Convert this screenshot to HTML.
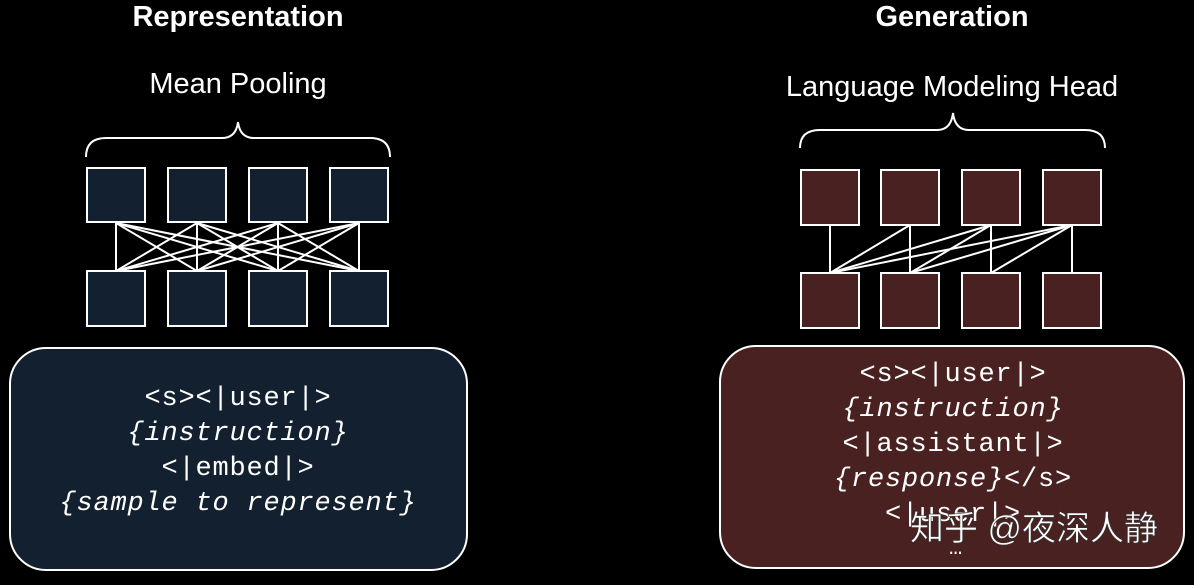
<!DOCTYPE html>
<html><head><meta charset="utf-8"><style>
body{margin:0;background:#000;width:1194px;height:580px;overflow:hidden}
</style></head><body>
<svg width="1194" height="580" xmlns="http://www.w3.org/2000/svg">
<g font-family="Liberation Sans, sans-serif" fill="#fff" text-anchor="middle">
<text x="238" y="26" font-size="29" font-weight="bold">Representation</text>
<text x="952" y="26" font-size="29" font-weight="bold">Generation</text>
<text x="238" y="93" font-size="29">Mean Pooling</text>
<text x="952" y="96" font-size="29">Language Modeling Head</text>
</g>
<g fill="none" stroke="#fff" stroke-width="2">
<path d="M86 157 Q86 138 106 138 L222 138 Q236 138 238 122 Q240 138 254 138 L370 138 Q390 138 390 157"/>
<path d="M800 148 Q800 130 820 130 L937 130 Q951 130 953 113 Q955 130 969 130 L1085 130 Q1105 130 1105 148"/>
</g>
<g stroke="#fff" stroke-width="2">
<line x1="116" y1="223" x2="116" y2="271"/><line x1="116" y1="223" x2="197" y2="271"/><line x1="116" y1="223" x2="278" y2="271"/><line x1="116" y1="223" x2="359" y2="271"/>
<line x1="197" y1="223" x2="116" y2="271"/><line x1="197" y1="223" x2="197" y2="271"/><line x1="197" y1="223" x2="278" y2="271"/><line x1="197" y1="223" x2="359" y2="271"/>
<line x1="278" y1="223" x2="116" y2="271"/><line x1="278" y1="223" x2="197" y2="271"/><line x1="278" y1="223" x2="278" y2="271"/><line x1="278" y1="223" x2="359" y2="271"/>
<line x1="359" y1="223" x2="116" y2="271"/><line x1="359" y1="223" x2="197" y2="271"/><line x1="359" y1="223" x2="278" y2="271"/><line x1="359" y1="223" x2="359" y2="271"/>
<line x1="830" y1="225" x2="830" y2="273"/>
<line x1="910" y1="225" x2="830" y2="273"/><line x1="910" y1="225" x2="910" y2="273"/>
<line x1="991" y1="225" x2="830" y2="273"/><line x1="991" y1="225" x2="910" y2="273"/><line x1="991" y1="225" x2="991" y2="273"/>
<line x1="1072" y1="225" x2="830" y2="273"/><line x1="1072" y1="225" x2="910" y2="273"/><line x1="1072" y1="225" x2="991" y2="273"/><line x1="1072" y1="225" x2="1072" y2="273"/>
</g>
<g fill="#12202f" stroke="#fff" stroke-width="2">
<rect x="87" y="168" width="58" height="54"/><rect x="168" y="168" width="58" height="54"/><rect x="249" y="168" width="58" height="54"/><rect x="330" y="168" width="58" height="54"/>
<rect x="87" y="271" width="58" height="55"/><rect x="168" y="271" width="58" height="55"/><rect x="249" y="271" width="58" height="55"/><rect x="330" y="271" width="58" height="55"/>
<rect x="10" y="348" width="457" height="222" rx="36"/>
</g>
<g fill="#4a2121" stroke="#fff" stroke-width="2">
<rect x="801" y="170" width="58" height="55"/><rect x="881" y="170" width="58" height="55"/><rect x="962" y="170" width="58" height="55"/><rect x="1043" y="170" width="58" height="55"/>
<rect x="801" y="273" width="58" height="55"/><rect x="881" y="273" width="58" height="55"/><rect x="962" y="273" width="58" height="55"/><rect x="1043" y="273" width="58" height="55"/>
<rect x="720" y="346" width="464" height="222" rx="36"/>
</g>
<g font-family="Liberation Mono, DejaVu Sans Mono, monospace" font-size="27" letter-spacing="0.8" fill="#fff" text-anchor="middle">
<text x="238" y="405">&lt;s&gt;&lt;|user|&gt;</text>
<text x="238" y="440" font-style="italic">{instruction}</text>
<text x="238" y="475">&lt;|embed|&gt;</text>
<text x="238" y="510" font-style="italic">{sample to represent}</text>
<text x="953" y="381">&lt;s&gt;&lt;|user|&gt;</text>
<text x="953" y="416" font-style="italic">{instruction}</text>
<text x="953" y="451">&lt;|assistant|&gt;</text>
<text x="953" y="486"><tspan font-style="italic">{response}</tspan>&lt;/s&gt;</text>
<text x="953" y="521">&lt;|user|&gt;</text>
<text x="956" y="554" font-size="22">…</text>
</g>
<text x="1034" y="540" font-family="Liberation Sans, Noto Sans CJK SC, sans-serif" font-size="34" fill="#fff" text-anchor="middle" stroke="#333" stroke-width="0.6">知乎 @夜深人静</text>
</svg>
</body></html>
